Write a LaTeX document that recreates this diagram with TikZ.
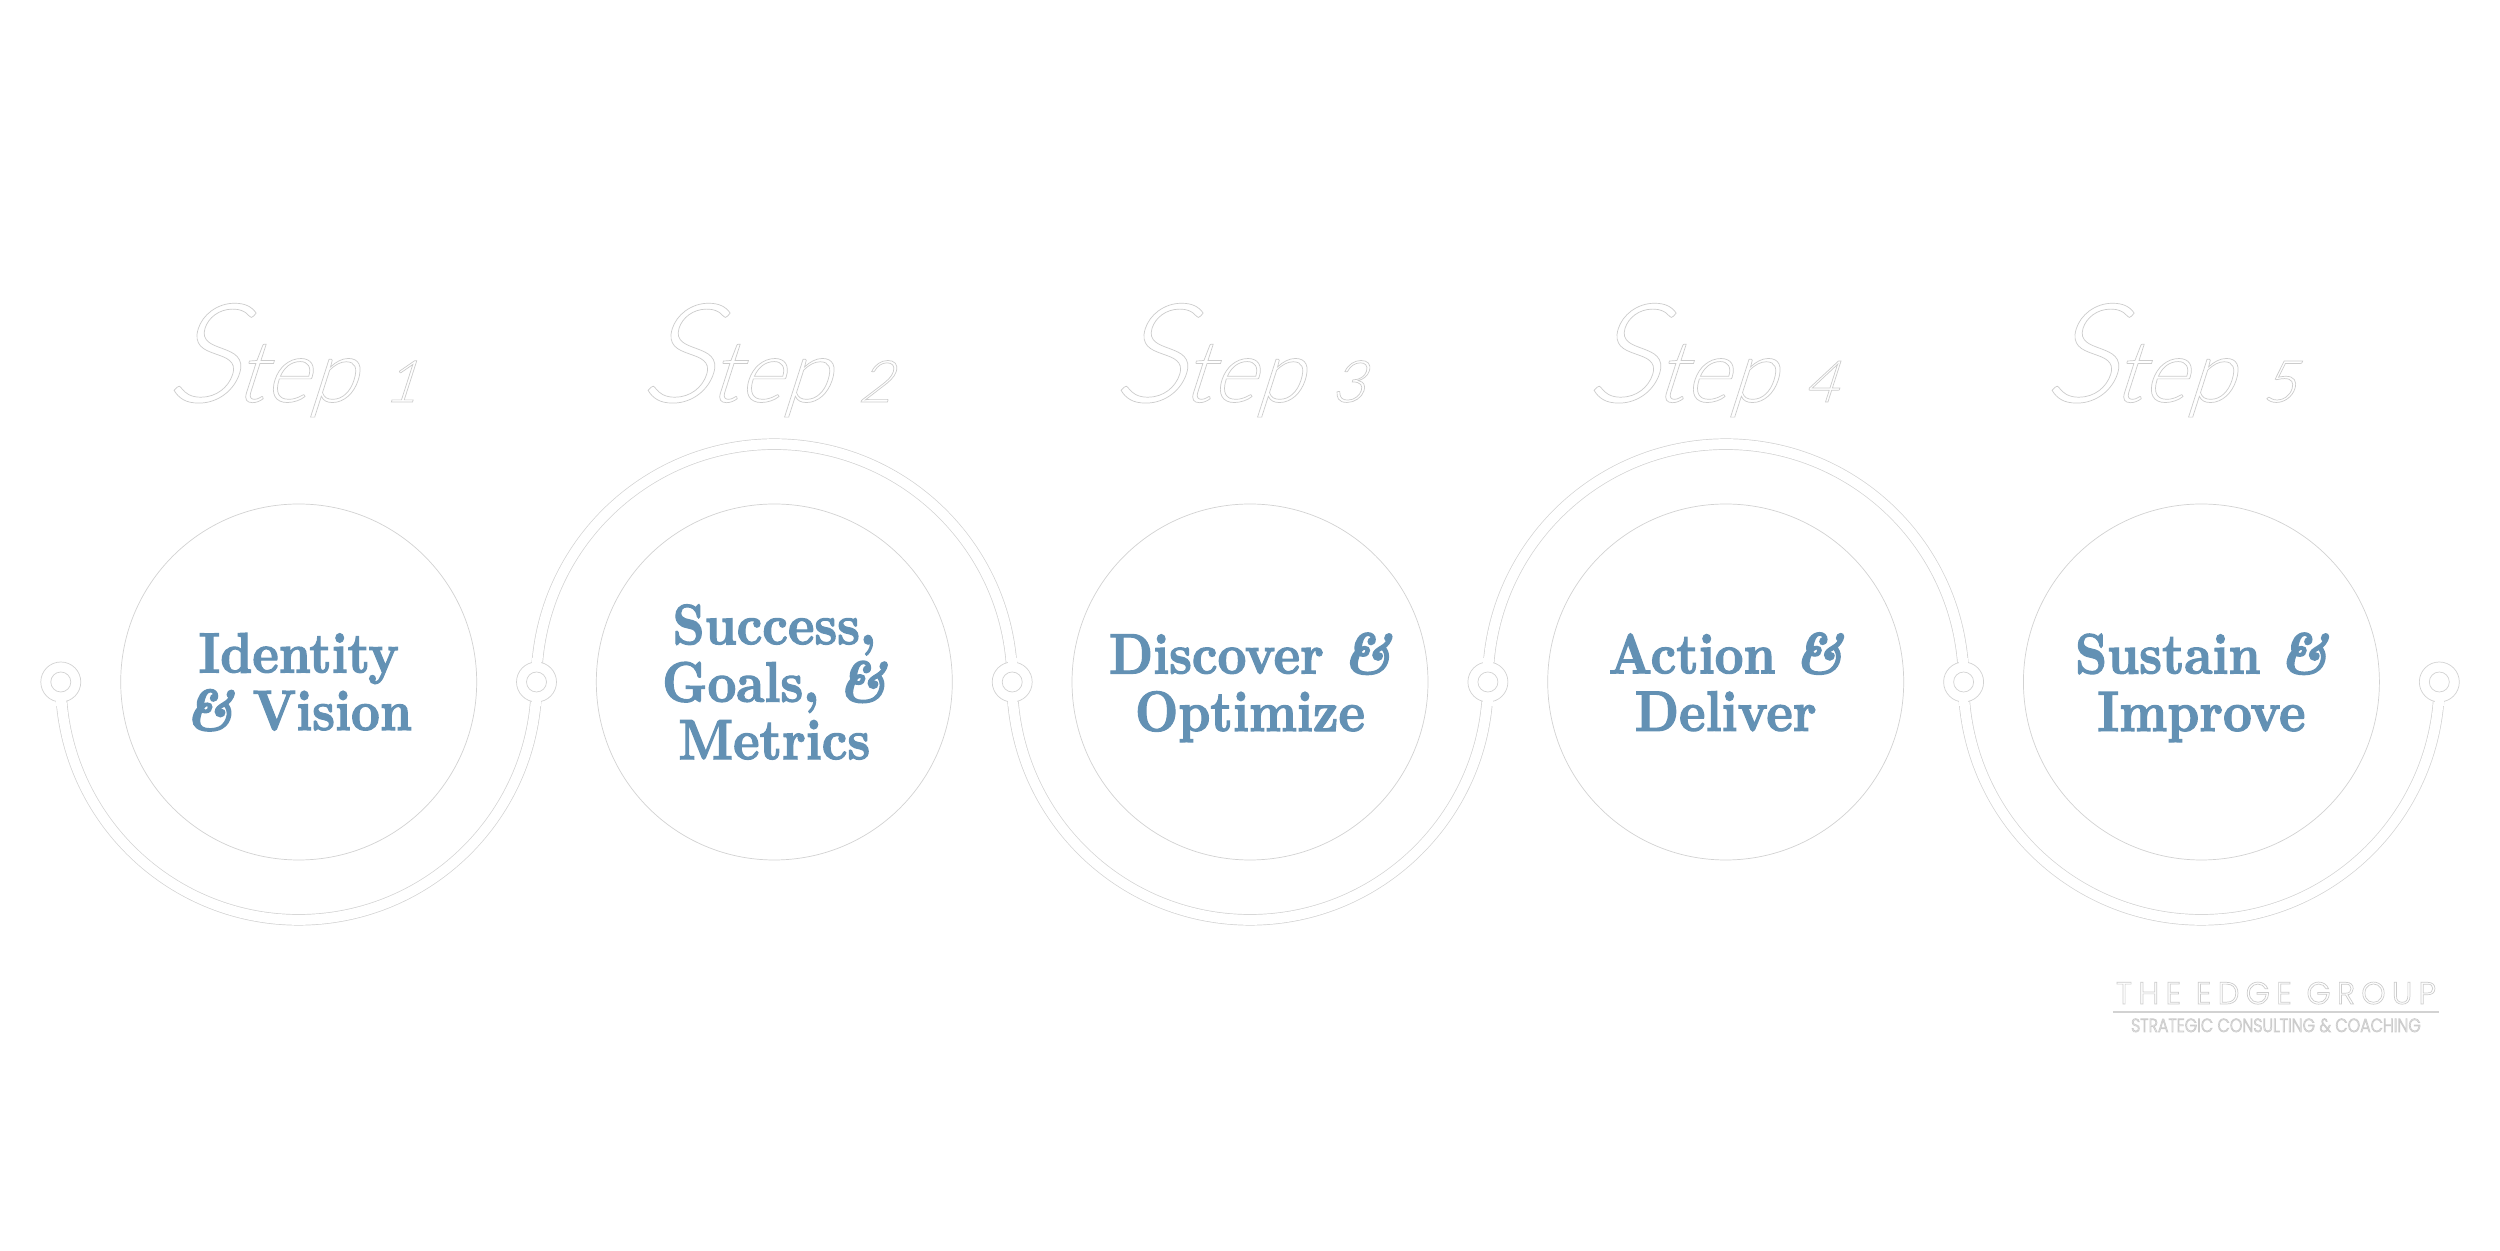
\documentclass[tikz,border=0pt]{standalone}
\usepackage{fontspec}
\newfontfamily\titlefont[FakeStretch=0.88,FakeBold=2,Extension=.otf]{lmroman10-bold}
\newfontfamily\ampfont[FakeStretch=0.95,FakeBold=3,Extension=.otf]{lmroman10-bolditalic}
\newfontfamily\stepfont[FakeSlant=0.32]{Lato Light}
\newfontfamily\logofont{Poppins Light}
\newfontfamily\logosub[FakeStretch=0.84]{Poppins Light}
\newcommand{\hollowon}{\special{pdf:code q 1 Tr 0.7 w 0.80 0.80 0.80 RG}}
\newcommand{\hollowoff}{\special{pdf:code Q}}
\newcommand{\hollow}[1]{\hollowon #1\hollowoff}
\newcommand{\ampsign}{{\ampfont\&}}
\definecolor{stepblue}{HTML}{6391B4}
\definecolor{hair}{HTML}{D2D2D2}
\tikzset{
  x=1pt,y=1pt,
  disc/.style={circle,draw=hair,line width=0.7pt,fill=white,minimum size=356pt,inner sep=0pt,
    font=\titlefont\fontsize{57}{57.5}\selectfont,text=stepblue,align=center},
  tube/.style={draw=hair,line width=0.7pt,double=white,double distance=10pt},
  ring/.style={circle,draw=hair,line width=0.7pt,fill=white,minimum size=40pt,inner sep=0pt},
  hole/.style={circle,draw=hair,line width=0.7pt,fill=white,minimum size=20pt,inner sep=0pt},
  mouth/.style={draw=white,line width=9.4pt},
  steplabel/.style={inner sep=0pt,anchor=base west,font=\stepfont}
}
\begin{document}
\begin{tikzpicture}
\useasboundingbox (0,0) rectangle (2500,1250);
\fill[white] (0,0) rectangle (2500,1250);
% rings
\foreach \i/\x in {1/60.8,2/536.5,3/1012.2,4/1487.9,5/1963.6,6/2439.3}
  \coordinate (p\i) at (\x,568);
% tubes
\draw[tube] (p1) arc[start angle=180,end angle=360,radius=237.85];
\draw[tube] (p2) arc[start angle=180,end angle=0,radius=237.85];
\draw[tube] (p3) arc[start angle=180,end angle=360,radius=237.85];
\draw[tube] (p4) arc[start angle=180,end angle=0,radius=237.85];
\draw[tube] (p5) arc[start angle=180,end angle=360,radius=237.85];
\foreach \i in {1,...,6} \node[ring] (r\i) at (p\i) {};
% mouths of the tubes into the rings
\foreach \i in {1,...,6} \draw[mouth] ([yshift=-12pt]p\i) -- ([yshift=-24pt]p\i);
\foreach \i in {2,...,5} \draw[mouth] ([yshift=12pt]p\i) -- ([yshift=24pt]p\i);
\foreach \i in {1,...,6} \node[hole] (h\i) at (p\i) {};
% discs
\node[disc] (c1) at (298.7,568) {Identity\\\ampsign{} Vision};
\node[disc] (c2) at (774.3,568) {Success,\\Goals, \ampsign\\Metrics};
\node[disc] (c3) at (1250,568) {Discover \ampsign\\\smash{Optimize}};
\node[disc] (c4) at (1725.7,568) {Action \ampsign\\Deliver};
\node[disc] (c5) at (2201.4,568) {Sustain \ampsign\\\smash{Improve}};
% step labels
\foreach \i/\x/\n in {1/164/1,2/638/2,3/1111/3,4/1584/4,5/2042/5}
  \node[steplabel] (s\i) at (\x,848) {\hollow{\fontsize{138}{138}\selectfont S\hspace{-4pt}\fontsize{86}{86}\selectfont tep\hspace{28pt}\fontsize{58}{58}\selectfont \n}};
% logo
\node[inner sep=0pt,anchor=base,font=\logofont\fontsize{31}{31}\selectfont] (l1) at (2276,246) {\hollow{\addfontfeatures{LetterSpace=20}THE EDGE GROUP}};
\coordinate (la) at (2113,238.3);
\coordinate (lb) at (2439,238.3);
\draw[draw=hair,line width=2pt] (la) -- (lb);
\node[inner sep=0pt,anchor=base,font=\logosub\fontsize{19}{19}\selectfont] (l2) at (2276,218) {\hollow{STRATEGIC CONSULTING \& COACHING}};
\end{tikzpicture}
\end{document}
